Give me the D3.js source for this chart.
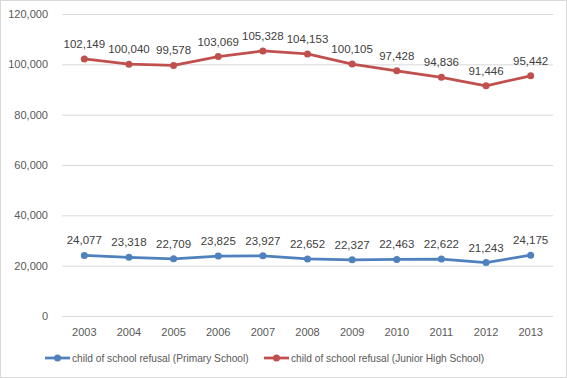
<!DOCTYPE html>
<html><head><meta charset="utf-8">
<script src="https://cdn.jsdelivr.net/npm/d3@7"></script>
<style>body{margin:0;background:#fff}svg{display:block}text{font-family:"Liberation Sans",Arial,sans-serif;}</style>
</head><body><svg id="c" width="567" height="378"></svg>
<script>
const years = ["2003","2004","2005","2006","2007","2008","2009","2010","2011","2012","2013"];
const primary = [24077,23318,22709,23825,23927,22652,22327,22463,22622,21243,24175];
const junior = [102149,100040,99578,103069,105328,104153,100105,97428,94836,91446,95442];
const yTicks = [0,20000,40000,60000,80000,100000,120000];
const seriesNames = ["child of school refusal (Primary School)","child of school refusal (Junior High School)"];
const colors = ["#4f81bd","#c0504d"];

const svg = d3.select("#c");
svg.append("rect").attr("x",0.5).attr("y",0.5).attr("width",566).attr("height",377)
  .attr("fill","#fff").attr("stroke","#d9d9d9");

const x = d3.scaleBand().domain(years).range([62,553]);
const y = d3.scaleLinear().domain([0,120000]).range([316,14]);
const fmt = d3.format(",");

const yAxis = svg.append("g").attr("transform","translate(62,0)")
  .call(d3.axisLeft(y).tickValues(yTicks).tickFormat(fmt).tickSize(-491).tickPadding(14));
yAxis.select(".domain").remove();
yAxis.selectAll("line").attr("stroke","#d9d9d9");
yAxis.selectAll("text").attr("fill","#595959").style("font-size","11px");

const xAxis = svg.append("g").attr("transform","translate(0,316)")
  .call(d3.axisBottom(x).tickSize(0).tickPadding(12));
xAxis.select(".domain").remove();
xAxis.selectAll("text").attr("fill","#595959").style("font-size","11px");

const cx = d => x(d) + x.bandwidth()/2;
const line = d3.line().x((d,i)=>cx(years[i])).y(d=>y(d));

[primary, junior].forEach((s,k)=>{
  const g = svg.append("g");
  g.append("path").datum(s).attr("d",line).attr("fill","none")
    .attr("stroke",colors[k]).attr("stroke-width",2.75).attr("stroke-linejoin","round");
  g.selectAll("circle").data(s).join("circle")
    .attr("cx",(d,i)=>cx(years[i])).attr("cy",d=>y(d)).attr("r",3.5).attr("fill",colors[k]);
  g.selectAll("text").data(s).join("text")
    .attr("x",(d,i)=>cx(years[i])).attr("y",d=>y(d)-11)
    .attr("text-anchor","middle").attr("fill","#404040").style("font-size","11.5px")
    .text(d=>fmt(d));
});

// legend
const legX = [45,264];
seriesNames.forEach((n,k)=>{
  const g = svg.append("g").attr("transform",`translate(${legX[k]},358)`);
  g.append("line").attr("x1",0).attr("x2",25).attr("y1",0).attr("y2",0)
    .attr("stroke",colors[k]).attr("stroke-width",2.75);
  g.append("circle").attr("cx",12.5).attr("cy",0).attr("r",3.5).attr("fill",colors[k]);
  g.append("text").attr("x",27).attr("y",4).attr("fill","#595959").style("font-size","10.2px").text(n);
});
</script></body></html>
